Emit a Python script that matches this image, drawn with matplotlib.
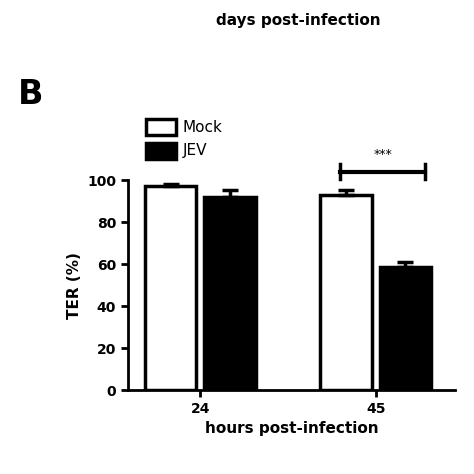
import matplotlib
matplotlib.use("Agg")
import matplotlib.pyplot as plt
from matplotlib.patches import Rectangle

groups = ["24", "45"]
series = ["Mock", "JEV"]
mock_vals = [97, 93]
mock_err = [1.2, 2.5]
jev_vals = [92, 58.5]
jev_err = [3.5, 2.5]

fig = plt.figure(figsize=(4.74, 4.74), dpi=100)
ax = fig.add_axes([0.27, 0.177, 0.69, 0.443])
centers = [0.5, 3.57]
w = 0.9
ekw = dict(capsize=6, capthick=2.5, elinewidth=2.5)
for i, c in enumerate(centers):
    ax.bar(c - 0.52, mock_vals[i], w, yerr=[[0], [mock_err[i]]], color="white", edgecolor="black",
           linewidth=2.5, error_kw=ekw, zorder=2)
    ax.bar(c + 0.52, jev_vals[i], w, yerr=[[0], [jev_err[i]]], color="black", edgecolor="black",
           linewidth=2.5, error_kw=ekw, zorder=2)
ax.set_xlim(-0.77, 4.96)
ax.set_ylim(0, 100)
ax.set_yticks([0, 20, 40, 60, 80, 100])
ax.set_xticks(centers)
ax.set_xticklabels(groups)
for s in ["top", "right"]:
    ax.spines[s].set_visible(False)
for s in ["left", "bottom"]:
    ax.spines[s].set_linewidth(2)
ax.tick_params(width=2, length=5, labelsize=10)
for t in ax.get_xticklabels() + ax.get_yticklabels():
    t.set_fontweight("bold")
ax.set_ylabel("TER (%)", fontsize=11, fontweight="bold")
ax.set_xlabel("hours post-infection", fontsize=11, fontweight="bold")

# significance bracket
bx0, bx1 = 2.95, 4.44
ax.plot([bx0, bx1], [104, 104], color="black", lw=3, clip_on=False)
ax.plot([bx0, bx0], [100.5, 107.5], color="black", lw=2.5, clip_on=False)
ax.plot([bx1, bx1], [100.5, 107.5], color="black", lw=2.5, clip_on=False)
ax.text((bx0 + bx1) / 2, 109, "***", ha="center", va="bottom", fontsize=9, clip_on=False)

# legend
for j, (name, fc) in enumerate(zip(series, ["white", "black"])):
    y = 1 - (127 + 24 * j) / 474
    fig.patches.append(Rectangle((146 / 474, y - 0.017), 30 / 474, 0.034, transform=fig.transFigure,
                                 facecolor=fc, edgecolor="black", linewidth=2.5))
    fig.text(183 / 474, y, name, fontsize=11, va="center")

fig.text(0.63, 1 - 20 / 474, "days post-infection", fontsize=11, fontweight="bold", ha="center", va="center")
fig.text(0.065, 1 - 95 / 474, "B", fontsize=24, fontweight="bold", ha="center", va="center")

fig.savefig("out.png", dpi=100)
